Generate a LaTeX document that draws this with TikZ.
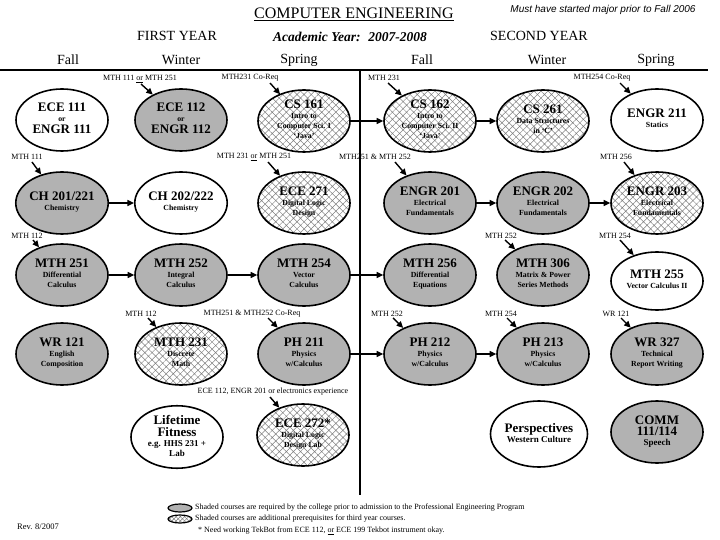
\documentclass[tikz,border=0pt]{standalone}
\usepackage{fontspec}
\setmainfont{Liberation Serif}
\newfontfamily\arialfont{Liberation Sans}
\usetikzlibrary{shapes.geometric,arrows.meta,patterns.meta,calc}
\newcommand{\crsT}[1]{{\fontsize{13}{13}\selectfont #1}}
\newcommand{\crsM}[1]{{\fontsize{9}{9}\selectfont #1}}
\newcommand{\crsbox}[1]{\begin{tabular}{@{}c@{}}#1\end{tabular}}
\tikzset{
  course/.style={ellipse, draw, line width=1.6pt, minimum width=92pt, minimum height=62pt,
    inner sep=0pt, font=\fontsize{7.8}{10}\selectfont\bfseries},
  plainc/.style={course, fill=white},
  shadedc/.style={course, fill=black!30},
  hatchc/.style={course, pattern={Hatch[angle=45,distance=5pt,line width=0.5pt]}, pattern color=black!50},
  req/.style={font=\fontsize{8}{9}\selectfont, inner sep=0pt},
  arr/.style={line width=1.4pt, -{Triangle[length=6.5pt,width=6pt]}},
  sem/.style={font=\fontsize{14}{15}\selectfont, inner sep=0pt},
  legtxt/.style={font=\fontsize{8}{9}\selectfont, inner sep=0pt, anchor=west},
  legell/.style={ellipse, draw, line width=1.2pt, minimum width=24pt, minimum height=8pt, inner sep=0pt}
}
\begin{document}
\begin{tikzpicture}[x=1pt,y=-1pt]
\useasboundingbox (0,0) rectangle (720,540);
% headings
\node[inner sep=0pt, font=\fontsize{16}{18}\selectfont] (title) at (354,14) {\underline{COMPUTER ENGINEERING}};
\node[inner sep=0pt, font=\arialfont\itshape\fontsize{10}{11}\selectfont] (note) at (603,10) {Must have started major prior to Fall 2006};
\node[sem] (y1) at (177,36) {FIRST YEAR};
\node[inner sep=0pt, font=\fontsize{13.5}{14}\selectfont\bfseries\itshape] (ay) at (350,37) {Academic Year:~ 2007-2008};
\node[sem] (y2) at (539,36) {SECOND YEAR};
\node[sem] (s1) at (68,60) {Fall};
\node[sem] (s2) at (181,60) {Winter};
\node[sem] (s3) at (299,60) {Spring};
\node[sem] (s4) at (422,60) {Fall};
\node[sem] (s5) at (547,60) {Winter};
\node[sem] (s6) at (656,60) {Spring};
\draw[line width=2.5pt] (0,70) -- (708,70);
\draw[line width=2pt] (360,70) -- (360,495);

% row 1
\node[plainc] (ece111) at (62,120) {\crsbox{\crsT{ECE 111}\\ or\\ \crsT{ENGR 111}}};
\node[shadedc] (ece112) at (181,120) {\crsbox{\crsT{ECE 112}\\ or\\ \crsT{ENGR 112}}};
\node[hatchc] (cs161) at (304,121) {\crsbox{\crsT{CS 161}\\ Intro to\\ Computer Sci. I\\ `Java'}};
\node[hatchc] (cs162) at (430,121) {\crsbox{\crsT{CS 162}\\ Intro to\\ Computer Sci. II\\ `Java'}};
\node[hatchc] (cs261) at (543,121) {\crsbox{\crsT{CS 261}\\ Data Structures\\ in `C'}};
\node[plainc] (engr211) at (657,120) {\crsbox{\crsT{ENGR 211}\\ Statics}};
% row 2
\node[shadedc] (ch201) at (62,203) {\crsbox{\crsT{CH 201/221}\\ Chemistry}};
\node[plainc] (ch202) at (181,203) {\crsbox{\crsT{CH 202/222}\\ Chemistry}};
\node[hatchc] (ece271) at (304,203) {\crsbox{\crsT{ECE 271}\\ Digital Logic\\ Design}};
\node[shadedc] (engr201) at (430,203) {\crsbox{\crsT{ENGR 201}\\ Electrical\\ Fundamentals}};
\node[shadedc] (engr202) at (543,203) {\crsbox{\crsT{ENGR 202}\\ Electrical\\ Fundamentals}};
\node[hatchc] (engr203) at (657,203) {\crsbox{\crsT{ENGR 203}\\ Electrical\\ Fundamentals}};
% row 3
\node[shadedc] (mth251) at (62,275) {\crsbox{\crsT{MTH 251}\\ Differential\\ Calculus}};
\node[shadedc] (mth252) at (181,275) {\crsbox{\crsT{MTH 252}\\ Integral\\ Calculus}};
\node[shadedc] (mth254) at (304,275) {\crsbox{\crsT{MTH 254}\\ Vector\\ Calculus}};
\node[shadedc] (mth256) at (430,275) {\crsbox{\crsT{MTH 256}\\ Differential\\ Equations}};
\node[shadedc] (mth306) at (543,275) {\crsbox{\crsT{MTH 306}\\ Matrix \& Power\\ Series Methods}};
\node[plainc, minimum height=58pt] (mth255) at (657,281) {\crsbox{\crsT{MTH 255}\\ Vector Calculus II}};
% row 4
\node[shadedc] (wr121) at (62,354) {\crsbox{\crsT{WR 121}\\ English\\ Composition}};
\node[hatchc] (mth231) at (181,354) {\crsbox{\crsT{MTH 231}\\ Discrete\\ Math}};
\node[shadedc] (ph211) at (304,354) {\crsbox{\crsT{PH 211}\\ Physics\\ w/Calculus}};
\node[shadedc] (ph212) at (430,354) {\crsbox{\crsT{PH 212}\\ Physics\\ w/Calculus}};
\node[shadedc] (ph213) at (543,354) {\crsbox{\crsT{PH 213}\\ Physics\\ w/Calculus}};
\node[shadedc] (wr327) at (657,354) {\crsbox{\crsT{WR 327}\\ Technical\\ Report Writing}};
% row 5
\node[plainc] (life) at (177,437) {\crsbox{\crsT{Lifetime}\\ \crsT{Fitness}\\ \crsM{e.g. HHS 231 +}\\ \crsM{Lab}}};
\node[hatchc] (ece272) at (303,435) {\crsbox{\crsT{ECE 272*}\\ Digital Logic\\ Design Lab}};
\node[plainc, minimum width=86pt, minimum height=66pt] (persp) at (539,434) {\crsbox{\crsT{Perspectives}\\ \crsM{Western Culture}}};
\node[shadedc] (comm) at (657,432) {\crsbox{\crsT{COMM}\\ \crsT{111/114}\\ \crsM{Speech}}};

% sequence arrows
\draw[arr] (cs161) -- (cs162);
\draw[arr] (cs162) -- (cs261);
\draw[arr] (ch201) -- (ch202);
\draw[arr] (engr201) -- (engr202);
\draw[arr] (engr202) -- (engr203);
\draw[arr] (mth251) -- (mth252);
\draw[arr] (mth252) -- (mth254);
\draw[arr] (mth254) -- (mth256);
\draw[arr] (ph211) -- (ph212);
\draw[arr] (ph212) -- (ph213);

% prerequisite labels
\node[req] (l1) at (140,79) {MTH 111 \underline{or} MTH 251};
\node[req] (l2) at (250,78) {MTH231 Co-Req};
\node[req] (l3) at (384,78) {MTH 231};
\node[req] (l4) at (602,78) {MTH254 Co-Req};
\node[req] (l5) at (27,157) {MTH 111};
\node[req] (l6) at (254,157) {MTH 231 \underline{or} MTH 251};
\node[req] (l7) at (375,157) {MTH251 \& MTH 252};
\node[req] (l8) at (616,157) {MTH 256};
\node[req] (l9) at (27,236) {MTH 112};
\node[req] (l10) at (501,236) {MTH 252};
\node[req] (l11) at (615,236) {MTH 254};
\node[req] (l12) at (141,314) {MTH 112};
\node[req] (l13) at (252,314) {MTH251 \& MTH252 Co-Req};
\node[req] (l14) at (387,314) {MTH 252};
\node[req] (l15) at (501,314) {MTH 254};
\node[req] (l16) at (616,314) {WR 121};
\node[req] (l17) at (273,392) {ECE 112, ENGR 201 or electronics experience};

\coordinate (a1) at (141,84);
\coordinate (a2) at (270,83);
\coordinate (a3) at (388,83);
\coordinate (a4) at (620,83);
\coordinate (a5) at (32,162);
\coordinate (a6) at (268,162);
\coordinate (a7) at (395,162);
\coordinate (a8) at (624,162);
\coordinate (a9) at (33,240);
\coordinate (a10) at (505,240);
\coordinate (a11) at (620,240);
\coordinate (a12) at (148,318);
\coordinate (a13) at (268,318);
\coordinate (a14) at (393,318);
\coordinate (a15) at (507,318);
\coordinate (a16) at (621,318);
\coordinate (a17) at (270,397);
\draw[arr] (a1) -- (ece112);
\draw[arr] (a2) -- (cs161);
\draw[arr] (a3) -- (cs162);
\draw[arr] (a4) -- (engr211);
\draw[arr] (a5) -- (ch201);
\draw[arr] (a6) -- (ece271);
\draw[arr] (a7) -- (engr201);
\draw[arr] (a8) -- (engr203);
\draw[arr] (a9) -- (mth251);
\draw[arr] (a10) -- (mth306);
\draw[arr] (a11) -- (mth255);
\draw[arr] (a12) -- (mth231);
\draw[arr] (a13) -- (ph211);
\draw[arr] (a14) -- (ph212);
\draw[arr] (a15) -- (ph213);
\draw[arr] (a16) -- (wr327);
\draw[arr] (a17) -- (ece272);

% legend
\node[legell, fill=black!30] (lg1) at (180,508) {};
\node[legell, pattern={Hatch[angle=45,distance=3pt,line width=0.4pt]}, pattern color=black!55] (lg2) at (180,519) {};
\node[legtxt] (lt1) at (195,508) {Shaded courses are required by the college prior to admission to the Professional Engineering Program};
\node[legtxt] (lt2) at (195,519) {Shaded courses are additional prerequisites for third year courses.};
\node[legtxt] (lt3) at (198,531) {* Need working TekBot from ECE 112, \underline{or} ECE 199 Tekbot instrument okay.};
\node[inner sep=0pt, font=\fontsize{8.5}{9}\selectfont] (rev) at (38,527) {Rev. 8/2007};
\end{tikzpicture}
\end{document}
